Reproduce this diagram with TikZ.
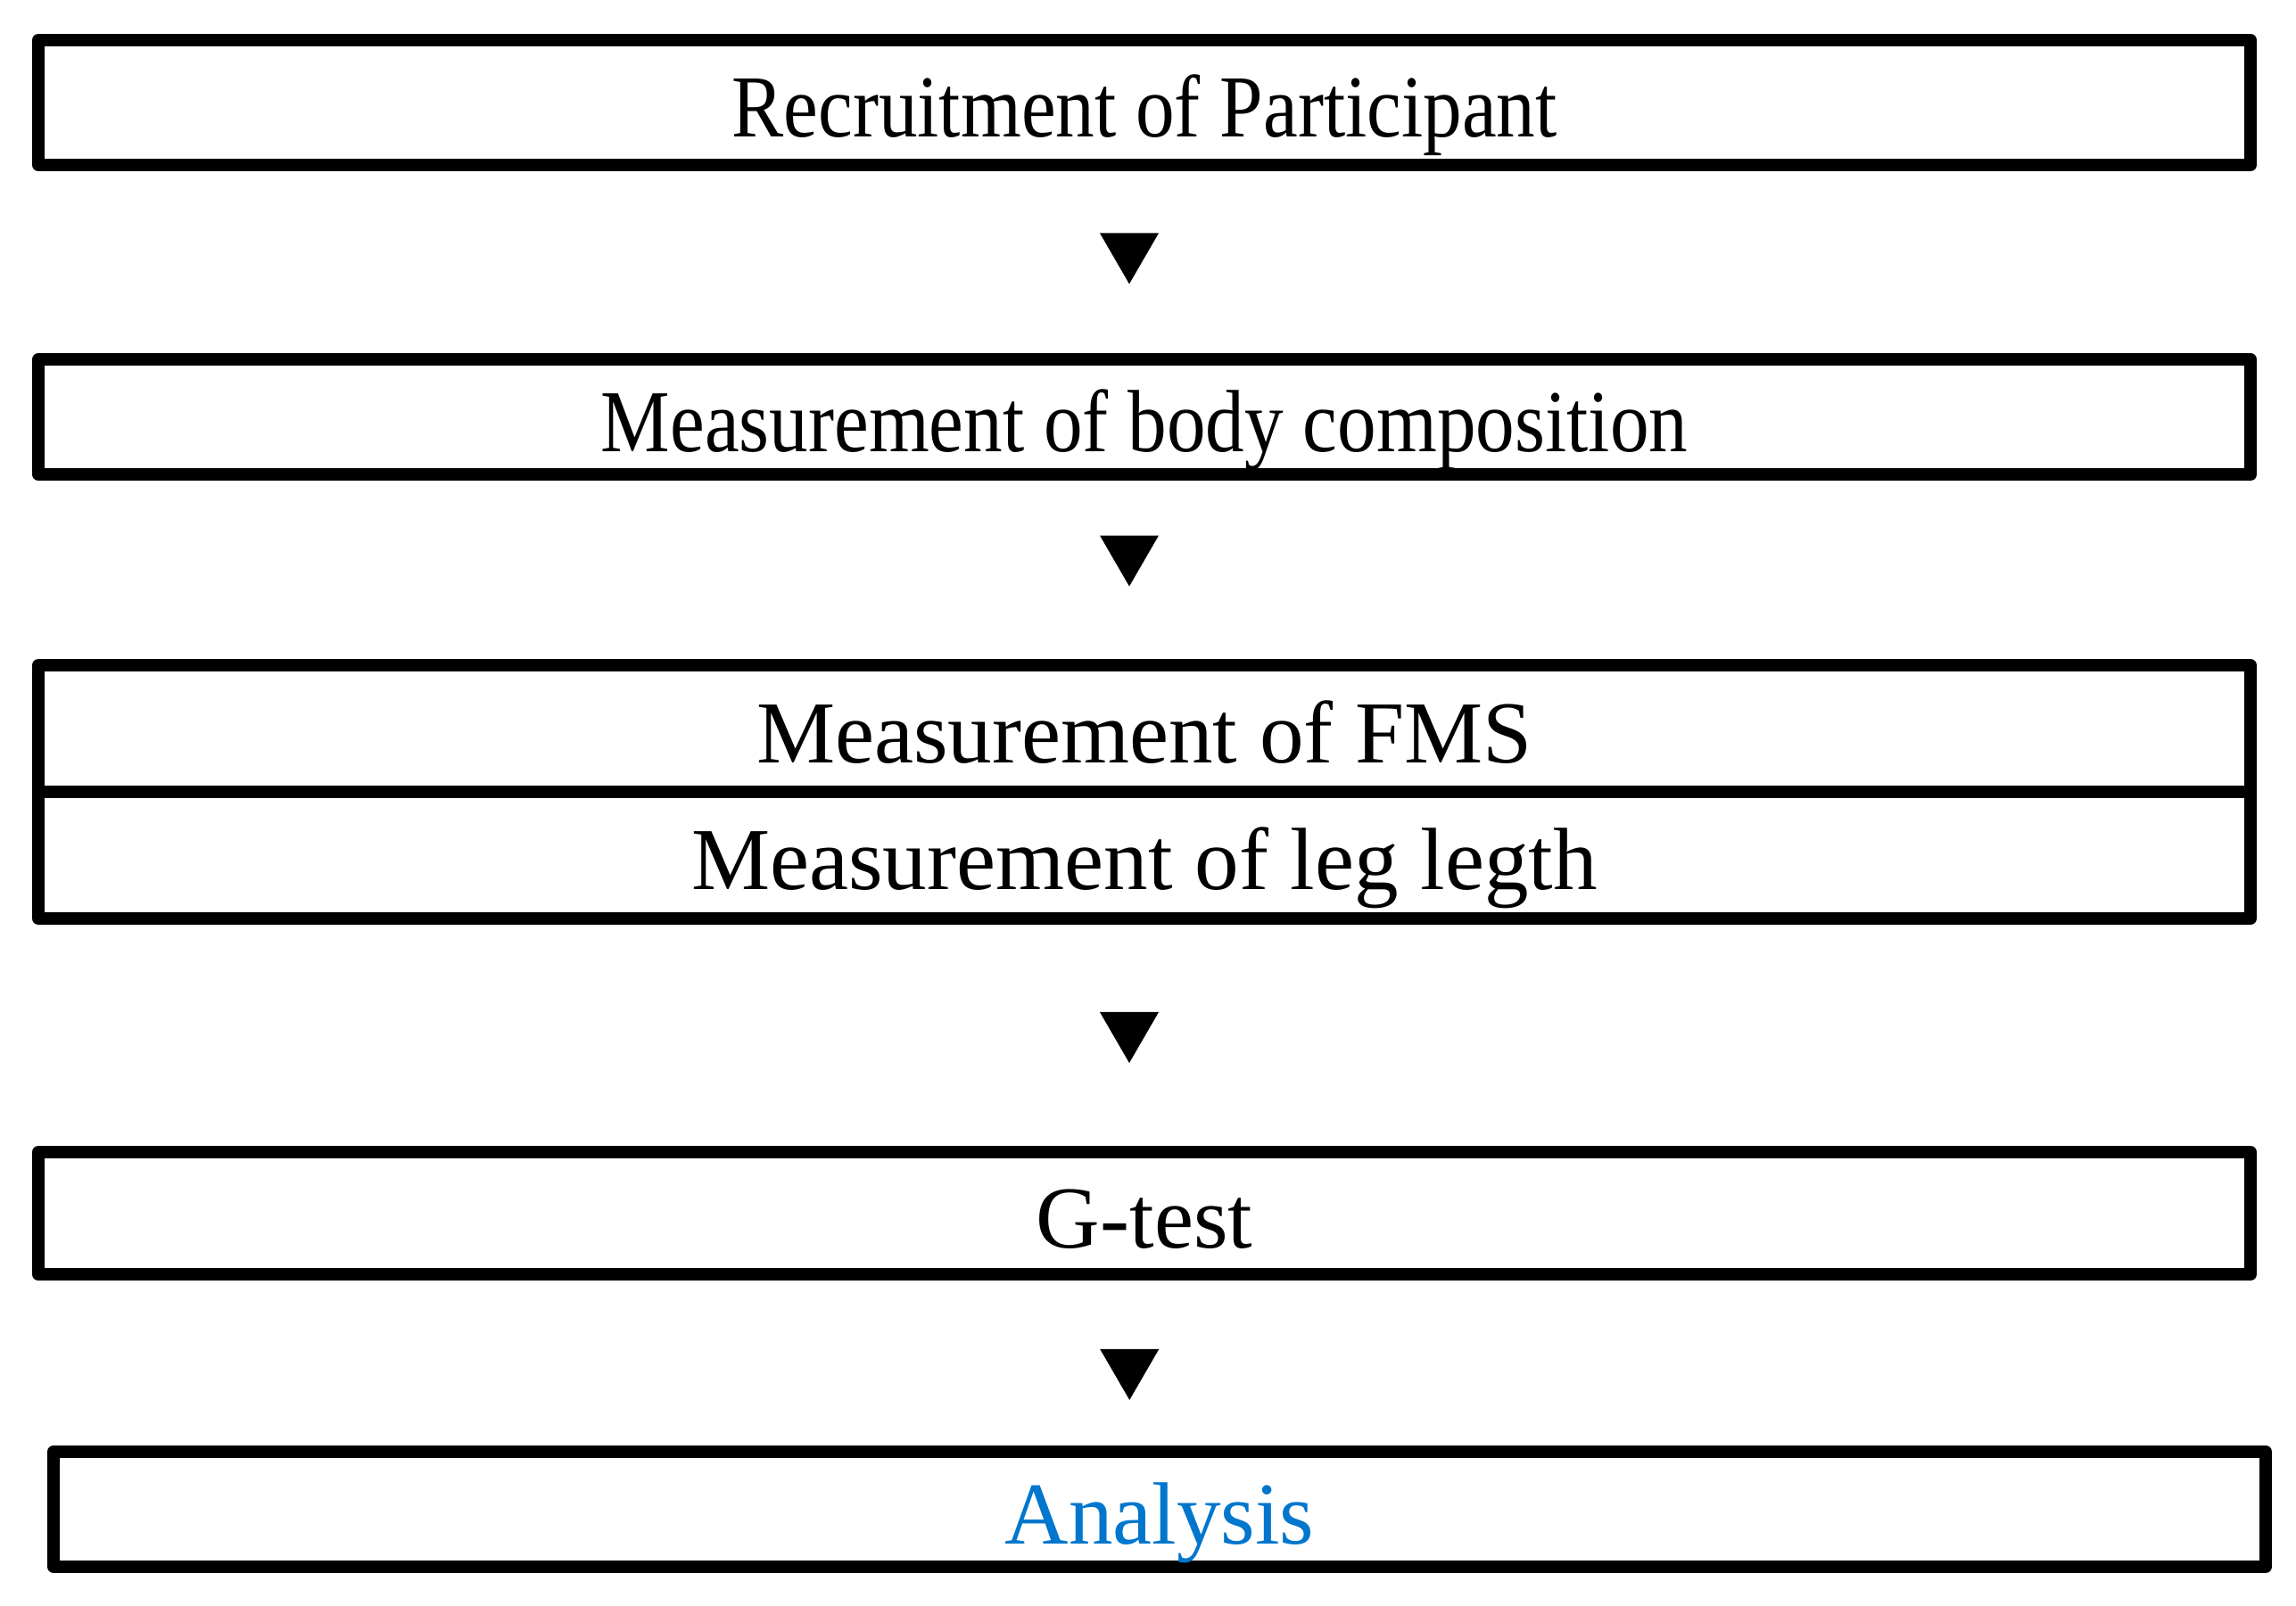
\documentclass[tikz,border=0pt]{standalone}
\usepackage{fontspec}
\usepackage{xcolor}
\setmainfont{Liberation Serif}
\newfontfamily\narrowSerif[FakeStretch=0.88]{Liberation Serif}
\definecolor{analysisBlue}{RGB}{0,118,204}
\usetikzlibrary{positioning}

\tikzset{
  stepbox/.style={
    draw,
    line width=1.4mm,
    line join=round,
    minimum width=24.80cm,
    inner sep=0pt,
    text height=22.6pt,
    text depth=0.5pt,
    font=\fontsize{28.2}{34}\selectfont,
  },
  downtri/.pic={
    \fill (-0.33,0.285) -- (0.33,0.285) -- (0,-0.285) -- cycle;
  },
}

\begin{document}
\begin{tikzpicture}
  \useasboundingbox (0,0) rectangle (25.74,-18.01);

  \node[stepbox, minimum height=1.40cm, font=\narrowSerif\fontsize{28.2}{34}\selectfont] (recruit) at (12.83,-1.15) {Recruitment of Participant};
  \node[stepbox, minimum height=1.29cm, font=\narrowSerif\fontsize{28.2}{34}\selectfont, below=2.04cm of recruit] (body) {Measurement of body composition};
  \node[stepbox, minimum height=1.42cm, below=2.00cm of body] (fms) {Measurement of FMS};
  \node[stepbox, minimum height=1.42cm, below=-1.4mm of fms] (leg) {Measurement of leg legth};
  \node[stepbox, minimum height=1.37cm, below=2.48cm of leg] (gtest) {G-test};
  \node[stepbox, minimum height=1.29cm, below=1.85cm of gtest, xshift=0.17cm, text=analysisBlue] (analysis) {Analysis};

  % triangles between the steps
  \path (recruit) -- pic[pos=0.48, xshift=-0.17cm] {downtri} (body);
  \path (body) -- pic[pos=0.45, xshift=-0.17cm] {downtri} (fms);
  \path (leg) -- pic[pos=0.51, xshift=-0.17cm] {downtri} (gtest);
  \path (gtest) -- pic[pos=0.57, xshift=-0.26cm] {downtri} (analysis);
  % \path (gtest) -- pic[midway] {downtri} (analysis);
\end{tikzpicture}
\end{document}
